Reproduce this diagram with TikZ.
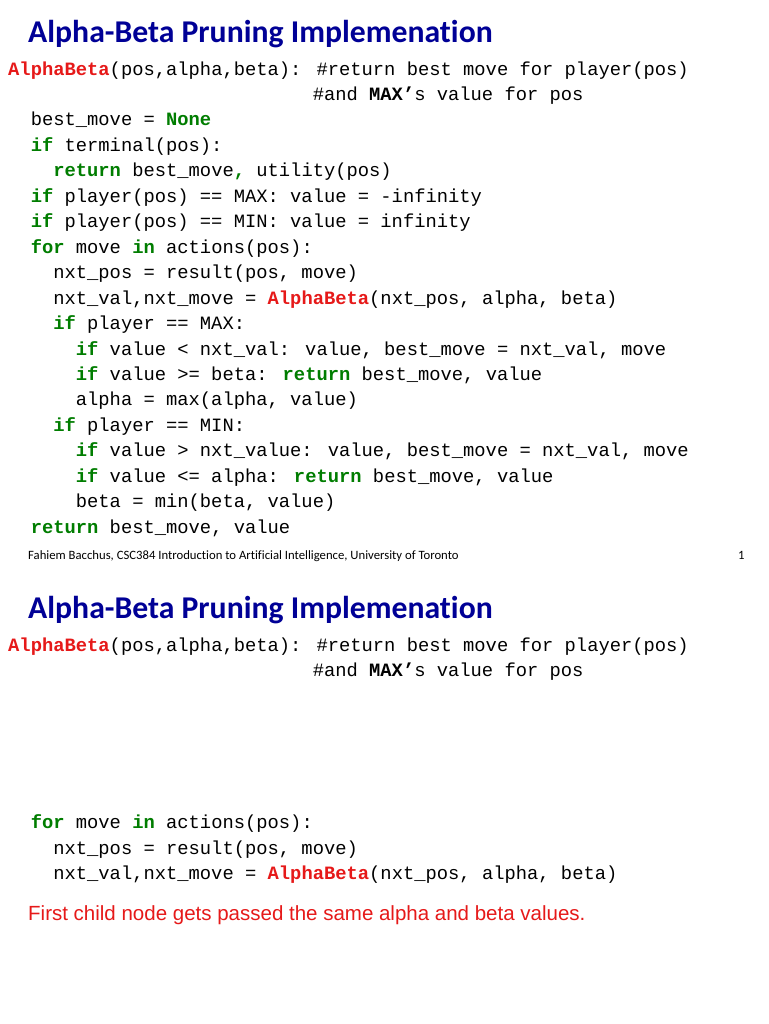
\documentclass[tikz,border=0pt]{standalone}
\usepackage{fontspec}
\setmainfont{Liberation Mono}
\newfontfamily\ttl[Ligatures=NoCommon]{Carlito}
\newfontfamily\rsans{Liberation Sans}
\definecolor{ttlblue}{RGB}{0,0,150}
\definecolor{kwg}{RGB}{0,125,0}
\definecolor{fnred}{RGB}{230,25,25}
\newcommand{\kw}[1]{\textcolor{kwg}{\bfseries #1}}
\newcommand{\fn}[1]{\textcolor{fnred}{\bfseries #1}}
\newcommand{\ind}[1]{\hspace*{#1\dimexpr 0.6em\relax}}
\begin{document}
\begin{tikzpicture}[x=1pt,y=1pt,
  code/.style={anchor=base west,inner sep=0pt,font=\fontsize{18.8}{20}\selectfont},
  title/.style={anchor=base west,inner sep=0pt,text=ttlblue,font=\ttl\bfseries\fontsize{31.7}{33}\selectfont},
  foot/.style={anchor=base west,inner sep=0pt,font=\ttl\fontsize{12.7}{14}\selectfont}]
\useasboundingbox (0,0) rectangle (768,-1024);
\fill[white] (0,0) rectangle (768,-1024);
% slide 1
\node[title] (t1) at (28,-43) {Alpha-Beta Pruning Implemenation};
\node[code] (l1) at (8,-76) {\fn{AlphaBeta}(pos,alpha,beta): \#return best move for player(pos)};
\node[code] (l2) at (8,-101) {\ind{27}\#and \textbf{MAX’}s value for pos};
\node[code] (l3) at (8,-126) {\ind{2}best\_move = \kw{None}};
\node[code] (l4) at (8,-152) {\ind{2}\kw{if} terminal(pos):};
\node[code] (l5) at (8,-177) {\ind{4}\kw{return} best\_move\kw{,} utility(pos)};
\node[code] (l6) at (8,-203) {\ind{2}\kw{if} player(pos) == MAX: value = -infinity};
\node[code] (l7) at (8,-228) {\ind{2}\kw{if} player(pos) == MIN: value = infinity};
\node[code] (l8) at (8,-253) {\ind{2}\kw{for} move \kw{in} actions(pos):};
\node[code] (l9) at (8,-278) {\ind{4}nxt\_pos = result(pos, move)};
\node[code] (l10) at (8,-304) {\ind{4}nxt\_val,nxt\_move = \fn{AlphaBeta}(nxt\_pos, alpha, beta)};
\node[code] (l11) at (8,-329) {\ind{4}\kw{if} player == MAX:};
\node[code] (l12) at (8,-355) {\ind{6}\kw{if} value < nxt\_val: value, best\_move = nxt\_val, move};
\node[code] (l13) at (8,-380) {\ind{6}\kw{if} value >= beta: \kw{return} best\_move, value};
\node[code] (l14) at (8,-405) {\ind{6}alpha = max(alpha, value)};
\node[code] (l15) at (8,-431) {\ind{4}\kw{if} player == MIN:};
\node[code] (l16) at (8,-456) {\ind{6}\kw{if} value > nxt\_value: value, best\_move = nxt\_val, move};
\node[code] (l17) at (8,-482) {\ind{6}\kw{if} value <= alpha: \kw{return} best\_move, value};
\node[code] (l18) at (8,-507) {\ind{6}beta = min(beta, value)};
\node[code] (l19) at (8,-533) {\ind{2}\kw{return} best\_move, value};
\node[foot] (f1) at (28,-559) {Fahiem Bacchus, CSC384 Introduction to Artificial Intelligence, University of Toronto};
\node[foot] (p1) at (738,-559) {1};
% slide 2
\node[title] (t2) at (28,-618) {Alpha-Beta Pruning Implemenation};
\node[code] (m1) at (8,-651) {\fn{AlphaBeta}(pos,alpha,beta): \#return best move for player(pos)};
\node[code] (m2) at (8,-676) {\ind{27}\#and \textbf{MAX’}s value for pos};
\node[code] (m3) at (8,-828) {\ind{2}\kw{for} move \kw{in} actions(pos):};
\node[code] (m4) at (8,-854) {\ind{4}nxt\_pos = result(pos, move)};
\node[code] (m5) at (8,-879) {\ind{4}nxt\_val,nxt\_move = \fn{AlphaBeta}(nxt\_pos, alpha, beta)};
\node[anchor=base west,inner sep=0pt,text=fnred,font=\rsans\fontsize{20.5}{22}\selectfont] (r1) at (28,-920) {First child node gets passed the same alpha and beta values.};
\end{tikzpicture}
\end{document}
